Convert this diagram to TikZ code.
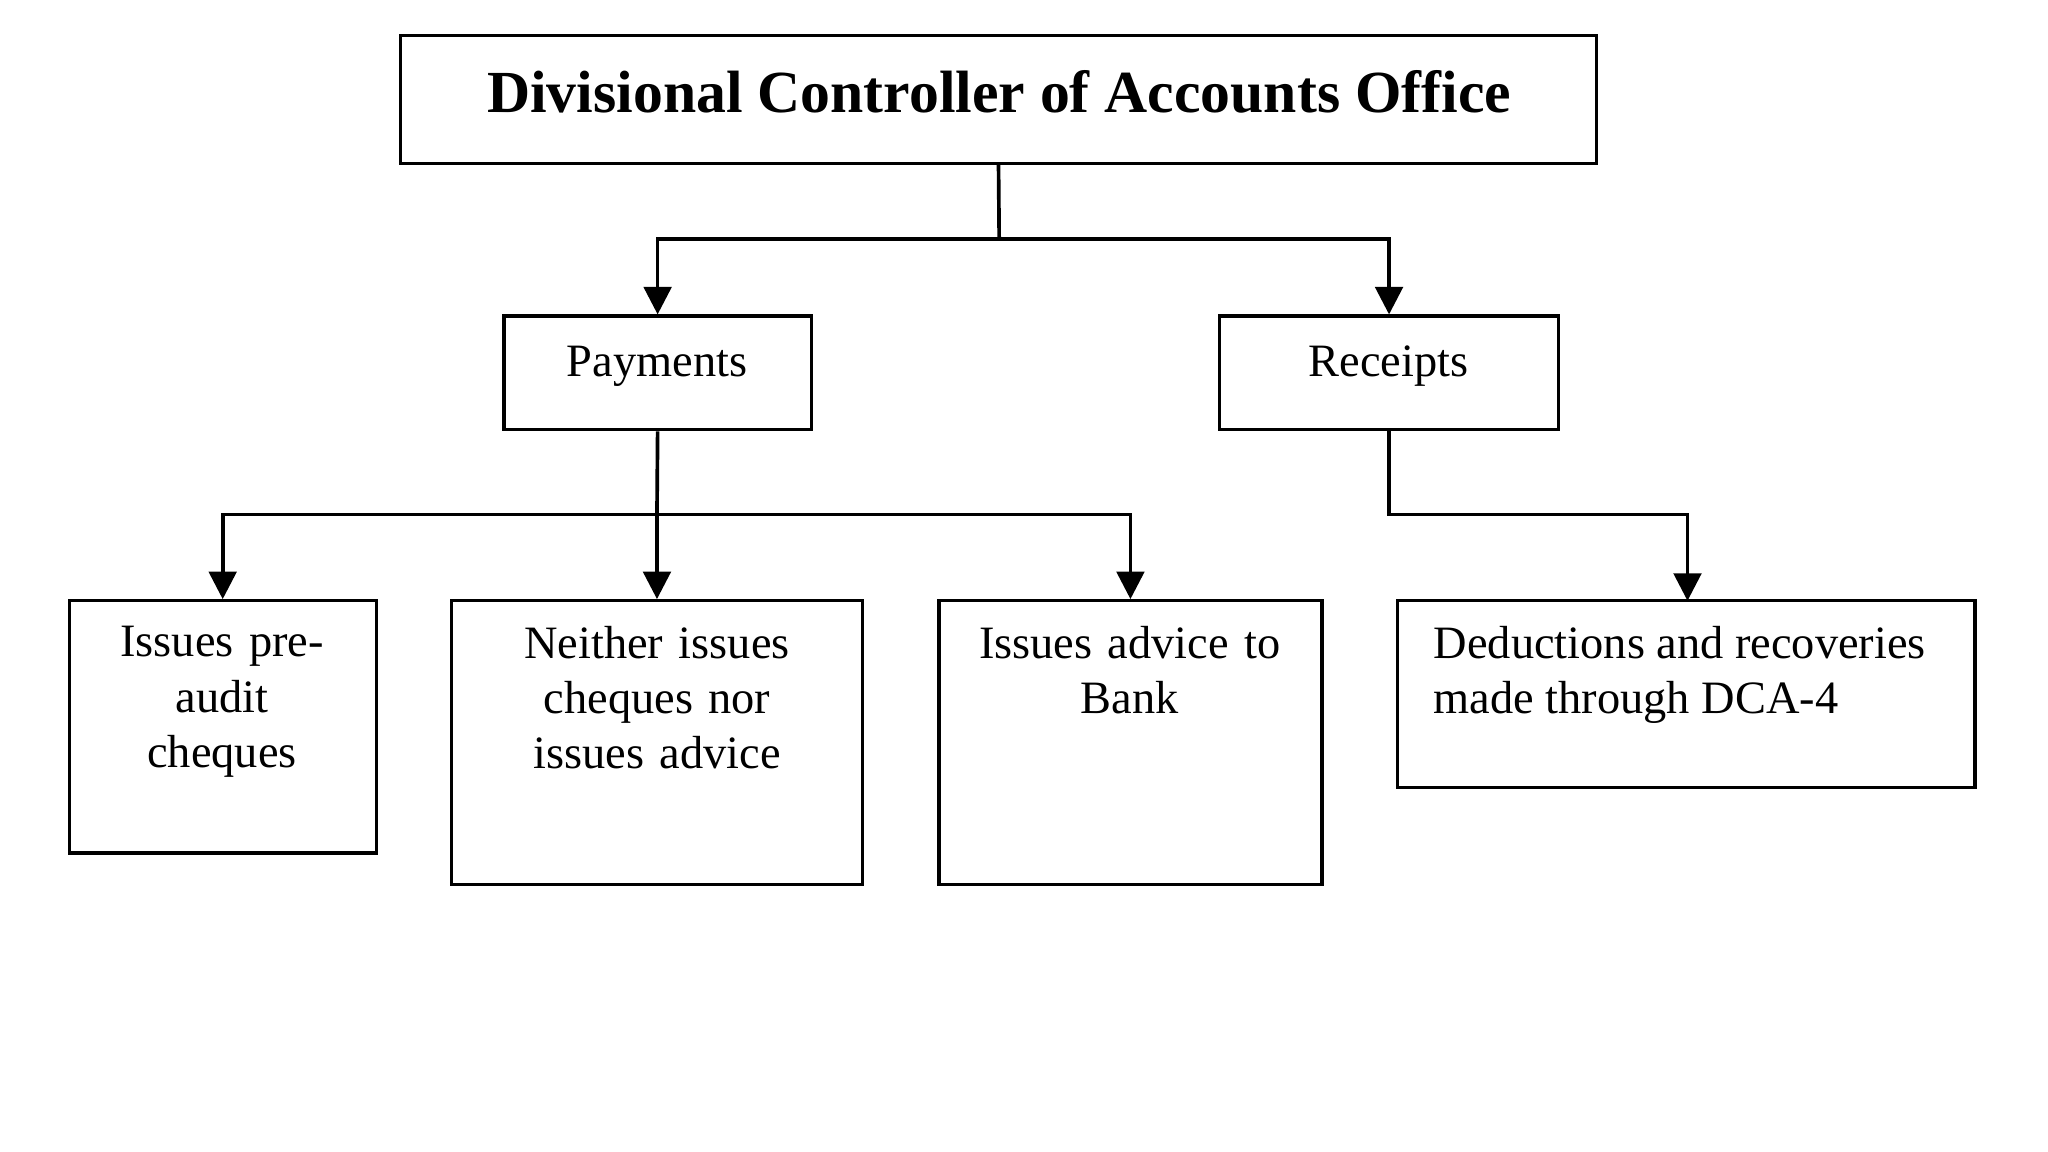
\documentclass[tikz,border=0pt]{standalone}
\usepackage{fontspec}
\setmainfont{Liberation Serif}
\usetikzlibrary{arrows.meta}
\begin{document}
\begin{tikzpicture}[x=0.01cm,y=-0.01cm,
  box/.style={draw,line width=0.7pt,inner sep=0},
  txt/.style={anchor=north,align=center,font=\fontsize{10.1}{12}\selectfont,inner sep=0},
  conn/.style={line width=0.8pt,-{Triangle[length=6pt,width=6pt]}}]
\useasboundingbox (0,0) rectangle (1568,882);
\node[box,minimum width=9.15cm,minimum height=0.98cm] (top) at (764.5,76) {};
\node[font=\fontsize{13}{15}\bfseries] (toptxt) at (765,70) {Divisional Controller of Accounts Office};
\node[box,minimum width=2.35cm,minimum height=0.87cm] (pay) at (503.5,285.5) {};
\node[txt] (paytxt) at (503,264) {Payments};
\node[box,minimum width=2.59cm,minimum height=0.87cm] (rec) at (1063.5,285.5) {};
\node[txt] (rectxt) at (1063,264) {Receipts};
\node[box,minimum width=2.35cm,minimum height=1.93cm] (b1) at (170.5,556.5) {};
\node[txt,text width=2.2cm] (b1t) at (170,479) {Issues pre-\\audit\\cheques};
\node[box,minimum width=3.14cm,minimum height=2.17cm] (b2) at (503,568.5) {};
\node[txt,text width=2.9cm] (b2t) at (503,479) {Neither issues\\cheques nor\\issues advice};
\node[box,minimum width=2.93cm,minimum height=2.17cm] (b3) at (865.5,568.5) {};
\node[txt,text width=2.8cm] (b3t) at (865,479) {Issues advice to\\Bank};
\node[box,minimum width=4.42cm,minimum height=1.43cm] (b4) at (1291,531.5) {};
\node[txt,align=left,anchor=north west] (b4t) at (1097,479) {Deductions and recoveries\\made through DCA-4};
\coordinate (j1) at (765,183);
\coordinate (j2) at (503,394);
\draw[line width=0.8pt] (top.south) -- (j1);
\draw[conn] (j1) -| (pay.north);
\draw[conn] (j1) -| (rec.north);
\draw[line width=0.8pt] (pay.south) -- (j2);
\draw[conn] (j2) -| (b1.north);
\draw[conn] (j2) -- (b2.north);
\draw[conn] (j2) -| (b3.north);
\draw[conn] (rec.south) |- (1180,394) -| (1292,460);
\end{tikzpicture}
\end{document}
